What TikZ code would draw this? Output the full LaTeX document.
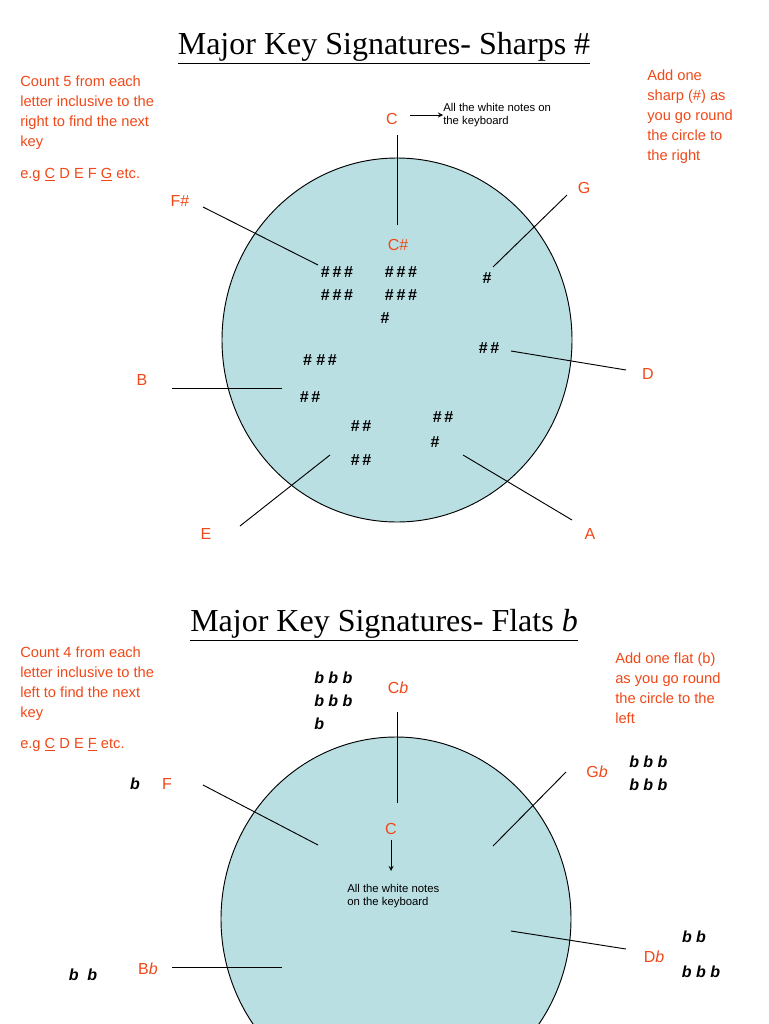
\documentclass[tikz,border=0pt]{standalone}
\usepackage{fontspec}
\setmainfont{Liberation Sans}
\newfontfamily\serifttl{Liberation Serif}
\definecolor{org}{RGB}{240,72,24}
\definecolor{circ}{RGB}{185,223,227}
\begin{document}
\begin{tikzpicture}[x=0.75pt,y=-0.75pt,
 lbl/.style={text=org,font=\fontsize{12}{14}\selectfont,inner sep=0pt},
 ttl/.style={font=\serifttl\fontsize{24}{28}\selectfont,inner sep=0pt},
 para/.style={text=org,font=\fontsize{11}{15}\selectfont,align=left,anchor=north west,inner sep=0pt},
 hs/.style={font=\bfseries\fontsize{12}{14}\selectfont,inner sep=0pt},
 fl/.style={font=\bfseries\itshape\fontsize{12}{17}\selectfont,inner sep=0pt,align=left},
 note/.style={font=\fontsize{8.5}{10}\selectfont,align=left,anchor=west,inner sep=0pt},
 ln/.style={draw=black,line width=0.7pt}]
\useasboundingbox (0,0) rectangle (768,1024);
\begin{scope}
\clip (0,0) rectangle (768,1024);
% ---------- Sharps
\node[ttl] (t1) at (384,48) {\underline{Major Key Signatures- Sharps \#}};
\node[para] (p1) at (20,76) {Count 5 from each\\letter inclusive to the\\right to find the next\\key};
\node[para] (p2) at (20,168) {e.g \underline{C} D E F \underline{G} etc.};
\node[para] (p3) at (647,70) {Add one\\sharp (\#) as\\you go round\\the circle to\\the right};
\draw[ln,fill=circ] (397,340) ellipse [x radius=175,y radius=182];
\node[lbl] (c) at (392,119) {C};
\coordinate (c1) at (397,135); \coordinate (c2) at (397,225);
\draw[ln] (c1)--(c2);
\node[note] (n1) at (443,115) {All the white notes on\\the keyboard};
\draw[ln,-stealth] (410,115)--(n1.west);
\node[lbl] (fs) at (180,201) {F\#};
\draw[ln] (203,207)--(318,265);
\node[lbl] (g) at (584,188) {G};
\draw[ln] (567,195)--(493,267);
\node[lbl] (d) at (648,374) {D};
\draw[ln] (511,351)--(626,370);
\node[lbl] (b) at (142,380) {B};
\draw[ln] (172,388)--(282,388);
\node[lbl] (e) at (206,534) {E};
\draw[ln] (240,526)--(330,455);
\node[lbl] (a) at (590,534) {A};
\draw[ln] (572,520)--(463,455);
\node[lbl] (cs) at (398,245) {C\#};
\node[hs] at (337,272) {\#\,\#\,\#};
\node[hs] at (337,295) {\#\,\#\,\#};
\node[hs] at (401,272) {\#\,\#\,\#};
\node[hs] at (401,295) {\#\,\#\,\#};
\node[hs] at (385,318) {\#};
\node[hs] at (487,278) {\#};
\node[hs] at (489,348) {\#\,\#};
\node[hs] at (320,360) {\#\;\#\,\#};
\node[hs] at (310,397) {\#\,\#};
\node[hs] at (361,426) {\#\,\#};
\node[hs] at (361,460) {\#\,\#};
\node[hs] at (443,417) {\#\,\#};
\node[hs] at (435,442) {\#};
% ---------- Flats
\node[ttl] (t2) at (384,625) {\underline{Major Key Signatures- Flats \textit{b}}};
\node[para] (q1) at (20,647) {Count 4 from each\\letter inclusive to the\\left to find the next\\key};
\node[para] (q2) at (20,738) {e.g \underline{C} D E \underline{F} etc.};
\node[para] (q3) at (615,653) {Add one flat (b)\\as you go round\\the circle to the\\left};
\draw[ln,fill=circ] (396,919) ellipse [x radius=175,y radius=182];
\node[fl,anchor=north west] at (314,672) {b b b\\b b b\\b};
\node[lbl] (cb) at (398,688) {C\textit{b}};
\draw[ln] (397,712)--(397,803);
\node[lbl] (c0) at (391,829) {C};
\node[note] (n2) at (347,896) {All the white notes\\on the keyboard};
\draw[ln,-stealth] (391,840)--(391,871);
\node[fl] at (135,784) {b};
\node[lbl] (f) at (167,784) {F};
\draw[ln] (203,785)--(318,845);
\node[lbl] (gb) at (597,772) {G\textit{b}};
\draw[ln] (566,772)--(493,846);
\node[fl,anchor=north west] at (629,756) {b b b\\b b b};
\node[lbl] (db) at (654,957) {D\textit{b}};
\draw[ln] (511,931)--(626,949);
\node[fl] at (694,937) {b b};
\node[fl] at (701,972) {b b b};
\node[lbl] (bb) at (148,969) {B\textit{b}};
\draw[ln] (172,967)--(282,967);
\node[fl] at (83,975) {b\;\;b};
\end{scope}
\end{tikzpicture}
\end{document}
